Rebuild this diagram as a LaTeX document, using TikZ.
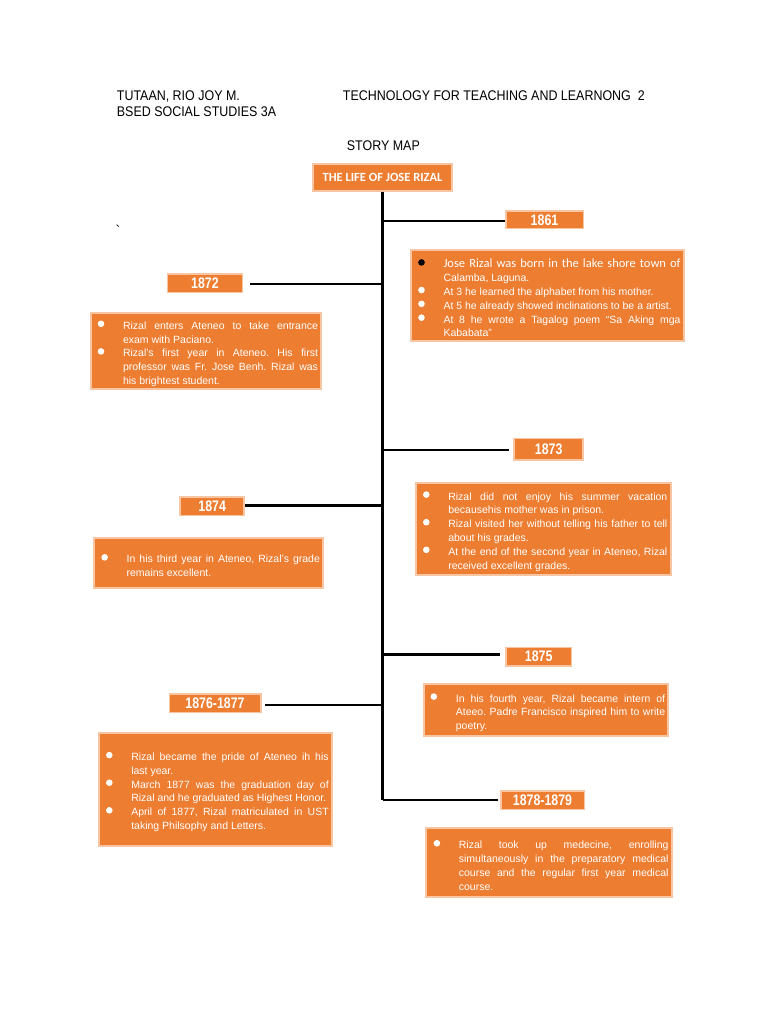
\documentclass[tikz,border=0pt]{standalone}
\usepackage{fontspec}
\setmainfont{Liberation Sans}
\newfontfamily\hfont[FakeStretch=0.89]{Liberation Sans}
\newfontfamily\yfont[FakeStretch=0.81]{Liberation Sans}
\newfontfamily\carl{Carlito}
\newfontfamily\gravef[Ligatures=TeXOff]{Liberation Sans}
\definecolor{boxor}{RGB}{237,125,49}
\hyphenpenalty=10000
\exhyphenpenalty=10000
\tolerance=10000
\frenchspacing
\newcommand{\wdot}{\raisebox{2.1pt}{\tikz\fill[white] (0,0) circle (3.3pt);}}
\newcommand{\kdot}{\raisebox{2.1pt}{\tikz\fill[black] (0,0) circle (3.3pt);}}
\newcommand{\bitem}[2][\wdot]{\par\noindent\hangindent=29pt\hangafter=1\makebox[29pt][l]{\hspace*{3.7pt}#1}#2\par}
\tikzset{
  hdr/.style={inner sep=0pt, anchor=base west, font=\hfont\fontsize{14}{16}\selectfont},
  tbox/.style={rectangle, fill=boxor, draw=boxor!45, line width=2pt, text=white, inner sep=0pt,
    font=\carl\bfseries\fontsize{12.5}{14}\selectfont},
  ybox/.style={rectangle, fill=boxor, draw=boxor!45, line width=1.5pt, text=white, inner sep=0pt,
    font=\yfont\bfseries\fontsize{15.3}{16}\selectfont},
  cbox/.style={rectangle, fill=boxor, draw=boxor!45, line width=2pt, text=white, inner sep=0pt,
    align=justify, font=\frenchspacing\fontsize{10.5}{13.8}\selectfont},
  conn/.style={line width=2.4pt, black},
}
\begin{document}
\begin{tikzpicture}[x=1pt,y=-1pt]
\useasboundingbox[fill=white] (0,0) rectangle (768,1024);

% header
\node[hdr] (name) at (116.7,100.7) {TUTAAN, RIO JOY M.};
\node[hdr] (course) at (116.7,116.7) {BSED SOCIAL STUDIES 3A};
\node[hdr] (subject) at (342.7,100.7) {TECHNOLOGY FOR TEACHING AND LEARNONG\ \ 2};
\node[hdr] (maptitle) at (346.7,150.7) {STORY MAP};
\node[inner sep=0pt, font=\gravef\fontsize{14}{16}\selectfont] (tick) at (118,230) {`};

% title
\node[tbox, minimum width=139pt, minimum height=26.4pt] (title) at (382.5,177.5) {THE LIFE OF JOSE RIZAL};

% year boxes
\node[ybox, minimum width=77.5pt, minimum height=17.5pt] (y1861) at (544.5,220) {1861};
\node[ybox, minimum width=75pt, minimum height=18.5pt] (y1872) at (205,283.3) {1872};
\node[ybox, minimum width=69pt, minimum height=21.5pt] (y1873) at (548.7,449) {1873};
\node[ybox, minimum width=64pt, minimum height=18.5pt] (y1874) at (212.2,506) {1874};
\node[ybox, minimum width=65.5pt, minimum height=18.5pt] (y1875) at (538.7,656.7) {1875};
\node[ybox, minimum width=91.5pt, minimum height=18.5pt] (y1876) at (215,703.3) {1876-1877};
\node[ybox, minimum width=83.5pt, minimum height=18.5pt] (y1878) at (542.5,800) {1878-1879};

% content boxes
\node[cbox, minimum width=273pt, minimum height=91pt, text width=266pt] (c1861) at (547.5,295.5) {%
\bitem[\kdot]{{\carl\fontsize{12.5}{13.8}\selectfont Jose Rizal was born in the lake shore town of}\linebreak Calamba, Laguna.}
\bitem{At 3 he learned the alphabet from his mother.}
\bitem{At 5 he already showed inclinations to be a artist.}
\bitem{At 8 he wrote a Tagalog poem “Sa Aking mga\linebreak Kababata”}};

\node[cbox, minimum width=230pt, minimum height=76pt, text width=224pt] (c1872) at (206,351) {%
\bitem{Rizal enters Ateneo to take entrance\linebreak exam with Paciano.}
\bitem{Rizal’s first year in Ateneo. His first\linebreak professor was Fr. Jose Benh. Rizal was\linebreak his brightest student.}};

\node[cbox, minimum width=255pt, minimum height=92pt, text width=248pt] (c1873) at (543.3,528.7) {%
\bitem{Rizal did not enjoy his summer vacation\linebreak becausehis mother was in prison.}
\bitem{Rizal visited her without telling his father to tell\linebreak about his grades.}
\bitem{At the end of the second year in Ateneo, Rizal\linebreak received excellent grades.}};

\node[cbox, minimum width=229pt, minimum height=50.5pt, text width=222.3pt] (c1874) at (208.8,562.8) {%
\bitem{In his third year in Ateneo, Rizal’s grade\linebreak remains excellent.}};

\node[cbox, minimum width=244.5pt, minimum height=51.5pt, text width=238.3pt] (c1875) at (546,710) {%
\bitem{In his fourth year, Rizal became intern of\linebreak Ateeo. Padre Francisco inspired him to write\linebreak poetry.}};

\node[cbox, minimum width=232.5pt, minimum height=113pt, text width=226.4pt] (c1876) at (215.5,789.2) {%
\bitem{Rizal became the pride of Ateneo ih his\linebreak last year.}
\bitem{March 1877 was the graduation day of\linebreak Rizal and he graduated as Highest Honor.}
\bitem{April of 1877, Rizal matriculated in UST\linebreak taking Philsophy and Letters.}};

\node[cbox, minimum width=246pt, minimum height=69.5pt, text width=238.6pt] (c1878) at (549.2,862.5) {%
\bitem{Rizal took up medecine, enrolling\linebreak simultaneously in the preparatory medical\linebreak course and the regular first year medical\linebreak course.}};

% spine
\coordinate (s1861) at (382.5,221);
\coordinate (s1872) at (382.5,284);
\coordinate (s1873) at (382.5,450);
\coordinate (s1874) at (382.5,505.5);
\coordinate (s1875) at (382.5,654.5);
\coordinate (s1876) at (382.5,705);
\coordinate (s1878) at (382.5,800);
\draw[conn] (title.south) -- (s1878);

% connectors
\draw[conn] (s1861) -- (s1861 -| y1861.west);
\draw[conn, shorten >=7pt] (s1872) -- (s1872 -| y1872.east);
\draw[conn, shorten >=4.5pt] (s1873) -- (s1873 -| y1873.west);
\draw[conn] (s1874) -- (s1874 -| y1874.east);
\draw[conn, shorten >=5pt] (s1875) -- (s1875 -| y1875.west);
\draw[conn, shorten >=3pt] (s1876) -- (s1876 -| y1876.east);
\draw[conn, shorten >=2pt] (s1878) -- (s1878 -| y1878.west);
\end{tikzpicture}
\end{document}
